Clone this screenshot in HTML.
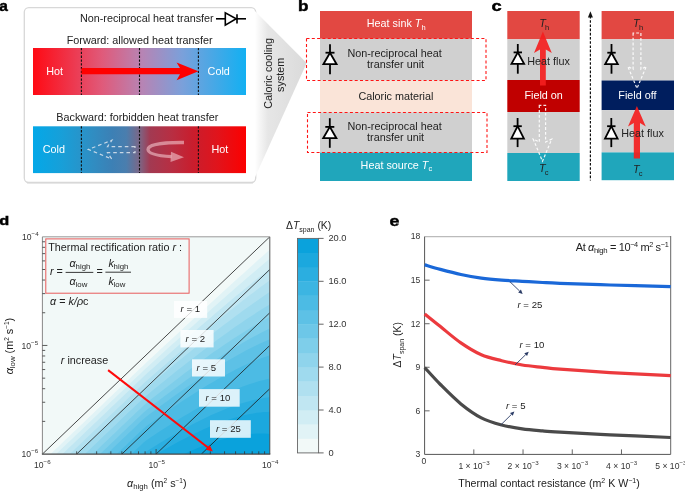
<!DOCTYPE html>
<html><head><meta charset="utf-8"><style>
html,body{margin:0;padding:0;background:#fff;}
svg{display:block;}
text{font-family:"Liberation Sans", Arial, sans-serif;fill:#222;}
.t{font-size:10.8px;}
.s{font-size:9.6px;}
.k{font-size:8.6px;fill:#333;}
.pl{font-weight:bold;fill:#000;stroke:#000;stroke-width:0.45px;}
.w{fill:#fff;}
</style></head><body>
<svg width="685" height="491" viewBox="0 0 685 491">
<rect width="685" height="491" fill="#fff"/>
<text x="-0.8" y="11" class="pl" style="font-size:15.5px">a</text>
<defs><linearGradient id="callg" x1="254.9" y1="0" x2="307" y2="0" gradientUnits="userSpaceOnUse"><stop offset="0" stop-color="#ffffff"/><stop offset="0.25" stop-color="#e6e6e6"/><stop offset="1" stop-color="#dadada"/></linearGradient></defs>
<path d="M27,183.3 H253" stroke="#e4e4e4" stroke-width="0.9"/>
<rect x="24.3" y="7.6" width="231.4" height="174.9" rx="4.5" fill="#fff" stroke="#d8d8d8" stroke-width="1.3"/>
<polygon points="254.9,10.9 306.7,63 254.9,177.5" fill="url(#callg)"/>
<defs><linearGradient id="fwd" x1="33" y1="0" x2="246" y2="0" gradientUnits="userSpaceOnUse"><stop offset="0" stop-color="#ff0a14"/><stop offset="0.324" stop-color="#e05a7a"/><stop offset="0.512" stop-color="#b784b4"/><stop offset="0.700" stop-color="#7ba0da"/><stop offset="1" stop-color="#12b0f2"/></linearGradient>
<linearGradient id="bwd" x1="33" y1="0" x2="246" y2="0" gradientUnits="userSpaceOnUse"><stop offset="0.000" stop-color="#03a8e8"/><stop offset="0.136" stop-color="#189fd8"/><stop offset="0.268" stop-color="#2e8fc4"/><stop offset="0.371" stop-color="#3c80b5"/><stop offset="0.437" stop-color="#4a7eae"/><stop offset="0.498" stop-color="#7a6888"/><stop offset="0.549" stop-color="#a23a52"/><stop offset="0.653" stop-color="#b82e42"/><stop offset="0.746" stop-color="#c81e2e"/><stop offset="0.864" stop-color="#e0141c"/><stop offset="1.000" stop-color="#fc0000"/></linearGradient></defs>
<rect x="33" y="48" width="213" height="47" fill="url(#fwd)"/>
<rect x="33" y="126.3" width="213" height="46.8" fill="url(#bwd)"/>
<line x1="81.4" y1="48" x2="81.4" y2="95" stroke="#111" stroke-width="1.1" stroke-dasharray="2.3 1.5"/>
<line x1="81.4" y1="126.3" x2="81.4" y2="173.1" stroke="#111" stroke-width="1.1" stroke-dasharray="2.3 1.5"/>
<line x1="139.5" y1="48" x2="139.5" y2="95" stroke="#111" stroke-width="1.1" stroke-dasharray="2.3 1.5"/>
<line x1="139.5" y1="126.3" x2="139.5" y2="173.1" stroke="#111" stroke-width="1.1" stroke-dasharray="2.3 1.5"/>
<line x1="198.4" y1="48" x2="198.4" y2="95" stroke="#111" stroke-width="1.1" stroke-dasharray="2.3 1.5"/>
<line x1="198.4" y1="126.3" x2="198.4" y2="173.1" stroke="#111" stroke-width="1.1" stroke-dasharray="2.3 1.5"/>
<polygon points="81.5,68 180,68 176.6,62.4 198.4,71.2 176.6,80.2 180,74.3 81.5,74.3" fill="#ff0000"/>
<polygon points="135,146.6 107.5,146.6 111.8,140.3 88.4,149.4 111.8,159.1 107.5,152.7 135,152.7" fill="none" stroke="#dfe6ee" stroke-width="1.2" stroke-dasharray="3.6 3" opacity="0.85"/>
<path d="M184,142.5 C166,142.3 148.2,144 148,149.5 C148.2,154.3 160,156 171.5,156.6" fill="none" stroke="#f0c0c8" stroke-opacity="0.62" stroke-width="3.3"/>
<polygon points="171,151.7 184,157.3 170.5,162" fill="#f0c0c8" fill-opacity="0.62"/>
<text x="79.9" y="22.2" class="t">Non-reciprocal heat transfer</text>
<g stroke="#000" stroke-width="1.6" style="fill:#fff"><line x1="216" y1="18.8" x2="246" y2="18.8"/><polygon points="225.3,12.8 225.3,25.2 236.2,18.8"/><line x1="237" y1="14.2" x2="237" y2="23.4"/></g>
<text x="66.7" y="44.4" class="t">Forward: allowed heat transfer</text>
<text x="46.3" y="74.8" class="t" style="fill:#fff">Hot</text>
<text x="207.6" y="74.6" class="t" style="fill:#fff">Cold</text>
<text x="56.3" y="121.4" class="t">Backward: forbidden heat transfer</text>
<text x="42.8" y="153.2" class="t" style="fill:#fff">Cold</text>
<text x="211.4" y="153.2" class="t" style="fill:#fff">Hot</text>
<text transform="translate(271.9,73.3) rotate(-90)" class="t" text-anchor="middle">Caloric cooling</text>
<text transform="translate(283.6,74.8) rotate(-90)" class="t" text-anchor="middle">system</text>
<text transform="translate(298.0,11) scale(1.22,1)" class="pl" style="font-size:14px">b</text>
<rect x="320" y="11" width="152" height="27.8" fill="#e24842"/>
<rect x="320" y="38.8" width="152" height="41.8" fill="#d0d0d0"/>
<rect x="320" y="80.6" width="152" height="31.7" fill="#fae4d8"/>
<rect x="320" y="112.3" width="152" height="40.3" fill="#d0d0d0"/>
<rect x="320" y="152.6" width="152" height="28.4" fill="#20a6bb"/>
<rect x="306.5" y="38.5" width="179.5" height="42" fill="none" stroke="#ff1414" stroke-width="1.1" stroke-dasharray="3 2.3"/>
<rect x="307.5" y="112.5" width="179.5" height="40" fill="none" stroke="#ff1414" stroke-width="1.1" stroke-dasharray="3 2.3"/>
<g stroke="#000" stroke-width="1.8" style="fill:#fff"><line x1="330" y1="44.3" x2="330" y2="74.3"/><polygon points="330,52.7 323.4,64.2 336.6,64.2" stroke-linejoin="miter"/><line x1="325.5" y1="52.7" x2="334.5" y2="52.7"/></g>
<g stroke="#000" stroke-width="1.8" style="fill:#fff"><line x1="329.8" y1="118.2" x2="329.8" y2="147.8"/><polygon points="329.8,126.9 323.2,138.2 336.40000000000003,138.2" stroke-linejoin="miter"/><line x1="325.3" y1="126.9" x2="334.3" y2="126.9"/></g>
<text x="396.2" y="27.1" class="t w" text-anchor="middle">Heat sink <tspan font-style="italic">T</tspan><tspan font-size="7.5" dy="2.6">h</tspan></text>
<text x="394.6" y="56.8" class="t" text-anchor="middle">Non-reciprocal heat</text>
<text x="395.6" y="68.1" class="t" text-anchor="middle">transfer unit</text>
<text x="395.9" y="99.9" class="t" text-anchor="middle">Caloric material</text>
<text x="394.6" y="129.6" class="t" text-anchor="middle">Non-reciprocal heat</text>
<text x="395.6" y="141.4" class="t" text-anchor="middle">transfer unit</text>
<text x="396.4" y="168.8" class="t w" text-anchor="middle">Heat source <tspan font-style="italic">T</tspan><tspan font-size="7.5" dy="2.6">c</tspan></text>
<text transform="translate(491.5,11) scale(1.18,1)" class="pl" style="font-size:15.5px">c</text>
<rect x="507.3" y="11" width="72.4" height="28.3" fill="#e24842"/>
<rect x="507.3" y="39.3" width="72.4" height="40.7" fill="#d0d0d0"/>
<rect x="507.3" y="80" width="72.4" height="32" fill="#c00000"/>
<rect x="507.3" y="112" width="72.4" height="41" fill="#d0d0d0"/>
<rect x="507.3" y="153" width="72.4" height="28" fill="#20a6bb"/>
<rect x="601.6" y="11" width="72.4" height="28.3" fill="#e24842"/>
<rect x="601.6" y="39.3" width="72.4" height="41.2" fill="#d0d0d0"/>
<rect x="601.6" y="80.5" width="72.4" height="29.6" fill="#001e5e"/>
<rect x="601.6" y="110.1" width="72.4" height="42.3" fill="#d0d0d0"/>
<rect x="601.6" y="152.4" width="72.4" height="27.8" fill="#20a6bb"/>
<line x1="590.4" y1="16" x2="590.4" y2="180.5" stroke="#111" stroke-width="1.2" stroke-dasharray="2.6 1.6"/>
<polygon points="590.4,11.2 587.9,17.6 592.9,17.6" fill="#111"/>
<g stroke="#000" stroke-width="1.8" style="fill:#fff"><line x1="517.8" y1="44" x2="517.8" y2="73.7"/><polygon points="517.8,52.4 511.49999999999994,63.8 524.0999999999999,63.8" stroke-linejoin="miter"/><line x1="513.5999999999999" y1="52.4" x2="522.0" y2="52.4"/></g>
<g stroke="#000" stroke-width="1.8" style="fill:#fff"><line x1="517.6" y1="118" x2="517.6" y2="147.1"/><polygon points="517.6,126.2 511.3,138.6 523.9,138.6" stroke-linejoin="miter"/><line x1="513.4" y1="126.2" x2="521.8000000000001" y2="126.2"/></g>
<g stroke="#000" stroke-width="1.8" style="fill:#fff"><line x1="611.5" y1="44" x2="611.5" y2="73.7"/><polygon points="611.5,52.7 605.2,64.1 617.8,64.1" stroke-linejoin="miter"/><line x1="607.3" y1="52.7" x2="615.7" y2="52.7"/></g>
<g stroke="#000" stroke-width="1.8" style="fill:#fff"><line x1="611.3" y1="118" x2="611.3" y2="147.1"/><polygon points="611.3,126.2 605.0,138.6 617.5999999999999,138.6" stroke-linejoin="miter"/><line x1="607.0999999999999" y1="126.2" x2="615.5" y2="126.2"/></g>
<polygon points="540.0,85.5 540.0,49.5 534.0,52.9 542.9,31.6 551.8,52.9 545.8,49.5 545.8,85.5" fill="#f41e1e" fill-opacity="0.92"/>
<polygon points="633.8,158.5 633.8,123.0 628.0,126.5 636.9,105.9 645.8,126.5 640.0,123.0 640.0,158.5" fill="#f41e1e" fill-opacity="0.92"/>
<polygon points="539.3,105.3 539.3,142.0 533.2,139.1 542.5,161.3 551.7,139.1 545.6,142.0 545.6,105.3" fill="none" stroke="#fff" stroke-opacity="0.9" stroke-width="1.2" stroke-dasharray="2.8 2"/>
<polygon points="633.1,33.0 633.1,69.3 627.8,66.4 637.0,88.4 646.3,66.4 640.9,69.3 640.9,33.0" fill="none" stroke="#fff" stroke-opacity="0.9" stroke-width="1.2" stroke-dasharray="2.8 2"/>
<text x="539.2" y="27" class="t" font-style="italic">T</text><text x="545" y="30.1" class="t" style="font-size:7.5px">h</text>
<text x="633.1" y="27.2" class="t" font-style="italic">T</text><text x="638.9" y="30.3" class="t" style="font-size:7.5px">h</text>
<text x="527.3" y="65" class="t">Heat flux</text>
<text x="621.2" y="137" class="t">Heat flux</text>
<text x="524.4" y="99.2" class="t" style="fill:#fff">Field on</text>
<text x="618.3" y="99" class="t" style="fill:#fff">Field off</text>
<text x="539" y="172.4" class="t" font-style="italic">T</text><text x="544.8" y="175.4" class="t" style="font-size:7.5px">c</text>
<text x="632.9" y="172.8" class="t" font-style="italic">T</text><text x="638.7" y="175.8" class="t" style="font-size:7.5px">c</text>
<text transform="translate(-0.8,225.4) scale(1.2,1)" class="pl" style="font-size:13.6px">d</text>
<defs><clipPath id="dclip"><rect x="42.4" y="236.8" width="227.4" height="217.3"/></clipPath></defs>
<g clip-path="url(#dclip)">
<rect x="42.4" y="236.8" width="227.4" height="217.3" fill="#f2f9f8"/>
<polygon points="8.29,494.43 11.84,491.04 15.40,487.64 18.95,484.25 22.50,480.85 26.06,477.46 29.61,474.06 33.16,470.67 36.72,467.27 40.27,463.87 43.82,460.48 47.37,457.08 50.93,453.69 54.48,450.29 58.03,446.90 61.59,443.50 65.14,440.11 68.69,436.71 72.25,433.32 75.80,429.92 79.35,426.53 82.91,423.13 86.46,419.74 90.01,416.34 93.57,412.94 97.12,409.55 100.67,406.15 104.22,402.76 107.78,399.36 111.33,395.97 114.88,392.57 118.44,389.18 121.99,385.78 125.54,382.39 129.10,378.99 132.65,375.60 136.20,372.20 139.76,368.81 143.31,365.41 146.86,362.07 150.42,358.76 153.97,355.46 157.52,352.16 161.07,348.86 164.63,345.56 168.18,342.27 171.73,338.98 175.29,335.69 178.84,332.40 182.39,329.12 185.95,325.84 189.50,322.56 193.05,319.29 196.61,316.02 200.16,312.75 203.71,309.49 207.27,306.23 210.82,302.97 214.37,299.72 217.92,296.47 221.48,293.23 225.03,289.99 228.58,286.76 232.14,283.53 235.69,280.31 239.24,277.09 242.80,273.88 246.35,270.67 249.90,267.47 253.46,264.28 257.01,261.10 260.56,257.92 264.12,254.75 267.67,251.59 271.22,248.44 274.77,245.29 278.33,242.16 281.88,239.04 285.43,235.93 288.99,232.83 292.54,229.74 292.54,671.40 8.29,671.40" fill="#e1f3f6"/>
<polygon points="8.29,499.79 11.84,496.40 15.40,493.00 18.95,489.61 22.50,486.21 26.06,482.82 29.61,479.42 33.16,476.03 36.72,472.63 40.27,469.24 43.82,465.84 47.37,462.45 50.93,459.05 54.48,455.65 58.03,452.26 61.59,448.86 65.14,445.47 68.69,442.07 72.25,438.68 75.80,435.28 79.35,431.89 82.91,428.49 86.46,425.10 90.01,421.70 93.57,418.31 97.12,414.91 100.67,411.52 104.22,408.12 107.78,404.73 111.33,401.33 114.88,397.93 118.44,394.54 121.99,391.14 125.54,387.75 129.10,384.35 132.65,380.96 136.20,377.56 139.76,374.17 143.31,370.77 146.86,367.47 150.42,364.22 153.97,360.98 157.52,357.75 161.07,354.52 164.63,351.29 168.18,348.07 171.73,344.85 175.29,341.63 178.84,338.42 182.39,335.22 185.95,332.02 189.50,328.82 193.05,325.63 196.61,322.45 200.16,319.27 203.71,316.10 207.27,312.93 210.82,309.77 214.37,306.62 217.92,303.47 221.48,300.34 225.03,297.21 228.58,294.08 232.14,290.97 235.69,287.87 239.24,284.77 242.80,281.69 246.35,278.61 249.90,275.55 253.46,272.50 257.01,269.46 260.56,266.43 264.12,263.42 267.67,260.42 271.22,257.44 274.77,254.47 278.33,251.52 281.88,248.59 285.43,245.68 288.99,242.78 292.54,239.91 292.54,671.40 8.29,671.40" fill="#d1edf4"/>
<polygon points="8.29,505.82 11.84,502.42 15.40,499.03 18.95,495.63 22.50,492.24 26.06,488.84 29.61,485.45 33.16,482.05 36.72,478.65 40.27,475.26 43.82,471.86 47.37,468.47 50.93,465.07 54.48,461.68 58.03,458.28 61.59,454.89 65.14,451.49 68.69,448.10 72.25,444.70 75.80,441.31 79.35,437.91 82.91,434.52 86.46,431.12 90.01,427.73 93.57,424.33 97.12,420.93 100.67,417.54 104.22,414.14 107.78,410.75 111.33,407.35 114.88,403.96 118.44,400.56 121.99,397.17 125.54,393.77 129.10,390.38 132.65,386.98 136.20,383.59 139.76,380.19 143.31,376.80 146.86,373.53 150.42,370.36 153.97,367.19 157.52,364.03 161.07,360.87 164.63,357.72 168.18,354.58 171.73,351.44 175.29,348.31 178.84,345.18 182.39,342.07 185.95,338.96 189.50,335.85 193.05,332.76 196.61,329.67 200.16,326.59 203.71,323.52 207.27,320.46 210.82,317.41 214.37,314.37 217.92,311.34 221.48,308.32 225.03,305.31 228.58,302.32 232.14,299.33 235.69,296.36 239.24,293.41 242.80,290.46 246.35,287.54 249.90,284.63 253.46,281.74 257.01,278.86 260.56,276.00 264.12,273.17 267.67,270.35 271.22,267.56 274.77,264.79 278.33,262.04 281.88,259.32 285.43,256.63 288.99,253.97 292.54,251.34 292.54,671.40 8.29,671.40" fill="#c0e6f2"/>
<polygon points="8.29,512.78 11.84,509.39 15.40,505.99 18.95,502.60 22.50,499.20 26.06,495.81 29.61,492.41 33.16,489.01 36.72,485.62 40.27,482.22 43.82,478.83 47.37,475.43 50.93,472.04 54.48,468.64 58.03,465.25 61.59,461.85 65.14,458.46 68.69,455.06 72.25,451.67 75.80,448.27 79.35,444.88 82.91,441.48 86.46,438.09 90.01,434.69 93.57,431.29 97.12,427.90 100.67,424.50 104.22,421.11 107.78,417.71 111.33,414.32 114.88,410.92 118.44,407.53 121.99,404.13 125.54,400.74 129.10,397.34 132.65,393.95 136.20,390.55 139.76,387.16 143.31,383.76 146.86,380.54 150.42,377.45 153.97,374.37 157.52,371.29 161.07,368.22 164.63,365.16 168.18,362.11 171.73,359.06 175.29,356.03 178.84,353.00 182.39,349.98 185.95,346.98 189.50,343.98 193.05,340.99 196.61,338.02 200.16,335.06 203.71,332.11 207.27,329.17 210.82,326.24 214.37,323.33 217.92,320.43 221.48,317.55 225.03,314.68 228.58,311.83 232.14,309.00 235.69,306.18 239.24,303.39 242.80,300.61 246.35,297.86 249.90,295.12 253.46,292.41 257.01,289.73 260.56,287.07 264.12,284.43 267.67,281.83 271.22,279.25 274.77,276.71 278.33,274.20 281.88,271.73 285.43,269.29 288.99,266.90 292.54,264.55 292.54,671.40 8.29,671.40" fill="#b0e0f0"/>
<polygon points="8.29,519.77 11.84,516.38 15.40,512.98 18.95,509.59 22.50,506.19 26.06,502.80 29.61,499.40 33.16,496.01 36.72,492.61 40.27,489.22 43.82,485.82 47.37,482.43 50.93,479.03 54.48,475.63 58.03,472.24 61.59,468.84 65.14,465.45 68.69,462.05 72.25,458.66 75.80,455.26 79.35,451.87 82.91,448.47 86.46,445.08 90.01,441.68 93.57,438.29 97.12,434.89 100.67,431.50 104.22,428.10 107.78,424.70 111.33,421.31 114.88,417.91 118.44,414.52 121.99,411.12 125.54,407.73 129.10,404.33 132.65,400.94 136.20,397.54 139.76,394.15 143.31,390.75 146.86,387.58 150.42,384.57 153.97,381.57 157.52,378.58 161.07,375.60 164.63,372.63 168.18,369.67 171.73,366.72 175.29,363.78 178.84,360.85 182.39,357.93 185.95,355.03 189.50,352.14 193.05,349.26 196.61,346.40 200.16,343.55 203.71,340.72 207.27,337.91 210.82,335.11 214.37,332.32 217.92,329.56 221.48,326.82 225.03,324.09 228.58,321.39 232.14,318.70 235.69,316.04 239.24,313.41 242.80,310.80 246.35,308.21 249.90,305.66 253.46,303.13 257.01,300.64 260.56,298.17 264.12,295.74 267.67,293.35 271.22,290.99 274.77,288.68 278.33,286.41 281.88,284.18 285.43,282.00 288.99,279.88 292.54,277.81 292.54,671.40 8.29,671.40" fill="#9fdaee"/>
<polygon points="8.29,527.27 11.84,523.88 15.40,520.48 18.95,517.09 22.50,513.69 26.06,510.30 29.61,506.90 33.16,503.51 36.72,500.11 40.27,496.71 43.82,493.32 47.37,489.92 50.93,486.53 54.48,483.13 58.03,479.74 61.59,476.34 65.14,472.95 68.69,469.55 72.25,466.16 75.80,462.76 79.35,459.37 82.91,455.97 86.46,452.58 90.01,449.18 93.57,445.79 97.12,442.39 100.67,438.99 104.22,435.60 107.78,432.20 111.33,428.81 114.88,425.41 118.44,422.02 121.99,418.62 125.54,415.23 129.10,411.83 132.65,408.44 136.20,405.04 139.76,401.65 143.31,398.25 146.86,395.13 150.42,392.21 153.97,389.30 157.52,386.40 161.07,383.51 164.63,380.64 168.18,377.77 171.73,374.92 175.29,372.09 178.84,369.27 182.39,366.46 185.95,363.67 189.50,360.89 193.05,358.13 196.61,355.39 200.16,352.67 203.71,349.96 207.27,347.28 210.82,344.62 214.37,341.97 217.92,339.35 221.48,336.75 225.03,334.18 228.58,331.63 232.14,329.11 235.69,326.62 239.24,324.16 242.80,321.72 246.35,319.32 249.90,316.96 253.46,314.63 257.01,312.34 260.56,310.08 264.12,307.87 267.67,305.71 271.22,303.59 274.77,301.52 278.33,299.50 281.88,297.54 285.43,295.64 288.99,293.80 292.54,292.03 292.54,671.40 8.29,671.40" fill="#8fd4ec"/>
<polygon points="8.29,534.77 11.84,531.38 15.40,527.98 18.95,524.59 22.50,521.19 26.06,517.79 29.61,514.40 33.16,511.00 36.72,507.61 40.27,504.21 43.82,500.82 47.37,497.42 50.93,494.03 54.48,490.63 58.03,487.24 61.59,483.84 65.14,480.45 68.69,477.05 72.25,473.66 75.80,470.26 79.35,466.87 82.91,463.47 86.46,460.07 90.01,456.68 93.57,453.28 97.12,449.89 100.67,446.49 104.22,443.10 107.78,439.70 111.33,436.31 114.88,432.91 118.44,429.52 121.99,426.12 125.54,422.73 129.10,419.33 132.65,415.94 136.20,412.54 139.76,409.14 143.31,405.75 146.86,402.68 150.42,399.85 153.97,397.03 157.52,394.22 161.07,391.42 164.63,388.65 168.18,385.88 171.73,383.13 175.29,380.40 178.84,377.68 182.39,374.99 185.95,372.31 189.50,369.64 193.05,367.00 196.61,364.38 200.16,361.78 203.71,359.21 207.27,356.65 210.82,354.12 214.37,351.62 217.92,349.14 221.48,346.69 225.03,344.27 228.58,341.88 232.14,339.52 235.69,337.20 239.24,334.90 242.80,332.65 246.35,330.43 249.90,328.26 253.46,326.12 257.01,324.04 260.56,321.99 264.12,320.00 267.67,318.06 271.22,316.18 274.77,314.36 278.33,312.59 281.88,310.90 285.43,309.27 288.99,307.72 292.54,306.25 292.54,671.40 8.29,671.40" fill="#7eceea"/>
<polygon points="8.29,541.75 11.84,538.36 15.40,534.96 18.95,531.57 22.50,528.17 26.06,524.78 29.61,521.38 33.16,517.99 36.72,514.59 40.27,511.20 43.82,507.80 47.37,504.41 50.93,501.01 54.48,497.62 58.03,494.22 61.59,490.82 65.14,487.43 68.69,484.03 72.25,480.64 75.80,477.24 79.35,473.85 82.91,470.45 86.46,467.06 90.01,463.66 93.57,460.27 97.12,456.87 100.67,453.48 104.22,450.08 107.78,446.69 111.33,443.29 114.88,439.90 118.44,436.50 121.99,433.10 125.54,429.71 129.10,426.31 132.65,422.92 136.20,419.52 139.76,416.13 143.31,412.73 146.86,409.72 150.42,406.96 153.97,404.22 157.52,401.50 161.07,398.79 164.63,396.10 168.18,393.43 171.73,390.77 175.29,388.14 178.84,385.52 182.39,382.92 185.95,380.35 189.50,377.79 193.05,375.26 196.61,372.76 200.16,370.27 203.71,367.81 207.27,365.38 210.82,362.98 214.37,360.60 217.92,358.26 221.48,355.95 225.03,353.67 228.58,351.42 232.14,349.21 235.69,347.04 239.24,344.91 242.80,342.82 246.35,340.78 249.90,338.78 253.46,336.83 257.01,334.93 260.56,333.09 264.12,331.30 267.67,329.57 271.22,327.91 274.77,326.31 278.33,324.79 281.88,323.34 285.43,321.97 288.99,320.69 292.54,319.49 292.54,671.40 8.29,671.40" fill="#6dc7e8"/>
<polygon points="8.29,548.22 11.84,544.83 15.40,541.43 18.95,538.04 22.50,534.64 26.06,531.25 29.61,527.85 33.16,524.45 36.72,521.06 40.27,517.66 43.82,514.27 47.37,510.87 50.93,507.48 54.48,504.08 58.03,500.69 61.59,497.29 65.14,493.90 68.69,490.50 72.25,487.11 75.80,483.71 79.35,480.32 82.91,476.92 86.46,473.53 90.01,470.13 93.57,466.73 97.12,463.34 100.67,459.94 104.22,456.55 107.78,453.15 111.33,449.76 114.88,446.36 118.44,442.97 121.99,439.57 125.54,436.18 129.10,432.78 132.65,429.39 136.20,425.99 139.76,422.60 143.31,419.20 146.86,416.23 150.42,413.55 153.97,410.89 157.52,408.24 161.07,405.62 164.63,403.01 168.18,400.42 171.73,397.85 175.29,395.31 178.84,392.78 182.39,390.28 185.95,387.80 189.50,385.34 193.05,382.91 196.61,380.51 200.16,378.13 203.71,375.78 207.27,373.47 210.82,371.18 214.37,368.92 217.92,366.70 221.48,364.52 225.03,362.37 228.58,360.26 232.14,358.19 235.69,356.16 239.24,354.18 242.80,352.25 246.35,350.36 249.90,348.53 253.46,346.75 257.01,345.02 260.56,343.36 264.12,341.76 267.67,340.23 271.22,338.77 274.77,337.38 278.33,336.08 281.88,334.86 285.43,333.73 288.99,332.69 292.54,331.76 292.54,671.40 8.29,671.40" fill="#5dc1e6"/>
<polygon points="8.29,557.73 11.84,554.34 15.40,550.94 18.95,547.55 22.50,544.15 26.06,540.76 29.61,537.36 33.16,533.97 36.72,530.57 40.27,527.18 43.82,523.78 47.37,520.39 50.93,516.99 54.48,513.60 58.03,510.20 61.59,506.81 65.14,503.41 68.69,500.01 72.25,496.62 75.80,493.22 79.35,489.83 82.91,486.43 86.46,483.04 90.01,479.64 93.57,476.25 97.12,472.85 100.67,469.46 104.22,466.06 107.78,462.67 111.33,459.27 114.88,455.88 118.44,452.48 121.99,449.08 125.54,445.69 129.10,442.29 132.65,438.90 136.20,435.50 139.76,432.11 143.31,428.71 146.86,425.81 150.42,423.24 153.97,420.69 157.52,418.16 161.07,415.65 164.63,413.17 168.18,410.71 171.73,408.27 175.29,405.85 178.84,403.46 182.39,401.09 185.95,398.76 189.50,396.45 193.05,394.16 196.61,391.91 200.16,389.69 203.71,387.51 207.27,385.36 210.82,383.24 214.37,381.16 217.92,379.12 221.48,377.13 225.03,375.17 228.58,373.26 232.14,371.39 235.69,369.58 239.24,367.82 242.80,366.11 246.35,364.45 249.90,362.86 253.46,361.33 257.01,359.87 260.56,358.47 264.12,357.15 267.67,355.91 271.22,354.75 274.77,353.67 278.33,352.69 281.88,351.80 285.43,351.02 288.99,350.35 292.54,349.80 292.54,671.40 8.29,671.40" fill="#4cbbe4"/>
<polygon points="8.29,571.82 11.84,568.42 15.40,565.03 18.95,561.63 22.50,558.23 26.06,554.84 29.61,551.44 33.16,548.05 36.72,544.65 40.27,541.26 43.82,537.86 47.37,534.47 50.93,531.07 54.48,527.68 58.03,524.28 61.59,520.89 65.14,517.49 68.69,514.10 72.25,510.70 75.80,507.30 79.35,503.91 82.91,500.51 86.46,497.12 90.01,493.72 93.57,490.33 97.12,486.93 100.67,483.54 104.22,480.14 107.78,476.75 111.33,473.35 114.88,469.96 118.44,466.56 121.99,463.17 125.54,459.77 129.10,456.38 132.65,452.98 136.20,449.58 139.76,446.19 143.31,442.79 146.86,439.98 150.42,437.58 153.97,435.20 157.52,432.84 161.07,430.51 164.63,428.21 168.18,425.93 171.73,423.68 175.29,421.46 178.84,419.26 182.39,417.10 185.95,414.97 189.50,412.88 193.05,410.82 196.61,408.80 200.16,406.81 203.71,404.86 207.27,402.96 210.82,401.10 214.37,399.28 217.92,397.51 221.48,395.79 225.03,394.12 228.58,392.50 232.14,390.94 235.69,389.44 239.24,388.00 242.80,386.62 246.35,385.31 249.90,384.08 253.46,382.92 257.01,381.84 260.56,380.84 264.12,379.93 267.67,379.11 271.22,378.39 274.77,377.78 278.33,377.27 281.88,376.89 285.43,376.63 288.99,376.50 292.54,376.51 292.54,671.40 8.29,671.40" fill="#3cb5e2"/>
<polygon points="8.29,583.03 11.84,579.63 15.40,576.24 18.95,572.84 22.50,569.45 26.06,566.05 29.61,562.66 33.16,559.26 36.72,555.87 40.27,552.47 43.82,549.08 47.37,545.68 50.93,542.29 54.48,538.89 58.03,535.50 61.59,532.10 65.14,528.70 68.69,525.31 72.25,521.91 75.80,518.52 79.35,515.12 82.91,511.73 86.46,508.33 90.01,504.94 93.57,501.54 97.12,498.15 100.67,494.75 104.22,491.36 107.78,487.96 111.33,484.57 114.88,481.17 118.44,477.77 121.99,474.38 125.54,470.98 129.10,467.59 132.65,464.19 136.20,460.80 139.76,457.40 143.31,454.01 146.86,451.27 150.42,449.00 153.97,446.75 157.52,444.54 161.07,442.34 164.63,440.18 168.18,438.05 171.73,435.95 175.29,433.88 178.84,431.85 182.39,429.85 185.95,427.89 189.50,425.97 193.05,424.08 196.61,422.24 200.16,420.44 203.71,418.68 207.27,416.98 210.82,415.32 214.37,413.71 217.92,412.15 221.48,410.65 225.03,409.21 228.58,407.82 232.14,406.50 235.69,405.25 239.24,404.07 242.80,402.96 246.35,401.93 249.90,400.98 253.46,400.11 257.01,399.33 260.56,398.65 264.12,398.07 267.67,397.59 271.22,397.23 274.77,396.98 278.33,396.85 281.88,396.86 285.43,397.01 288.99,397.31 292.54,397.77 292.54,671.40 8.29,671.40" fill="#2baee0"/>
<polygon points="8.29,591.70 11.84,588.31 15.40,584.91 18.95,581.52 22.50,578.12 26.06,574.72 29.61,571.33 33.16,567.93 36.72,564.54 40.27,561.14 43.82,557.75 47.37,554.35 50.93,550.96 54.48,547.56 58.03,544.17 61.59,540.77 65.14,537.38 68.69,533.98 72.25,530.59 75.80,527.19 79.35,523.79 82.91,520.40 86.46,517.00 90.01,513.61 93.57,510.21 97.12,506.82 100.67,503.42 104.22,500.03 107.78,496.63 111.33,493.24 114.88,489.84 118.44,486.45 121.99,483.05 125.54,479.66 129.10,476.26 132.65,472.87 136.20,469.47 139.76,466.07 143.31,462.68 146.86,460.00 150.42,457.83 153.97,455.69 157.52,453.58 161.07,451.49 164.63,449.44 168.18,447.43 171.73,445.44 175.29,443.49 178.84,441.58 182.39,439.71 185.95,437.88 189.50,436.09 193.05,434.34 196.61,432.64 200.16,430.98 203.71,429.37 207.27,427.82 210.82,426.31 214.37,424.86 217.92,423.47 221.48,422.14 225.03,420.87 228.58,419.67 232.14,418.54 235.69,417.48 239.24,416.50 242.80,415.59 246.35,414.77 249.90,414.04 253.46,413.40 257.01,412.86 260.56,412.42 264.12,412.10 267.67,411.88 271.22,411.79 274.77,411.82 278.33,412.00 281.88,412.31 285.43,412.78 288.99,413.41 292.54,414.22 292.54,671.40 8.29,671.40" fill="#1ba8de"/>
<polygon points="8.29,604.94 11.84,601.55 15.40,598.15 18.95,594.76 22.50,591.36 26.06,587.97 29.61,584.57 33.16,581.18 36.72,577.78 40.27,574.38 43.82,570.99 47.37,567.59 50.93,564.20 54.48,560.80 58.03,557.41 61.59,554.01 65.14,550.62 68.69,547.22 72.25,543.83 75.80,540.43 79.35,537.04 82.91,533.64 86.46,530.25 90.01,526.85 93.57,523.45 97.12,520.06 100.67,516.66 104.22,513.27 107.78,509.87 111.33,506.48 114.88,503.08 118.44,499.69 121.99,496.29 125.54,492.90 129.10,489.50 132.65,486.11 136.20,482.71 139.76,479.32 143.31,475.92 146.86,473.34 150.42,471.32 153.97,469.33 157.52,467.38 161.07,465.47 164.63,463.58 168.18,461.74 171.73,459.94 175.29,458.17 178.84,456.45 182.39,454.77 185.95,453.13 189.50,451.54 193.05,450.00 196.61,448.51 200.16,447.07 203.71,445.69 207.27,444.37 210.82,443.10 214.37,441.90 217.92,440.76 221.48,439.69 225.03,438.69 228.58,437.77 232.14,436.92 235.69,436.15 239.24,435.47 242.80,434.89 246.35,434.39 249.90,433.99 253.46,433.70 257.01,433.52 260.56,433.46 264.12,433.52 267.67,433.70 271.22,434.03 274.77,434.49 278.33,435.11 281.88,435.90 285.43,436.86 288.99,438.00 292.54,439.33 292.54,671.40 8.29,671.40" fill="#0aa2dc"/>
<line x1="42.40" y1="454.10" x2="269.80" y2="236.80" stroke="#1a1a1a" stroke-width="0.8"/>
<line x1="76.63" y1="454.10" x2="269.80" y2="269.51" stroke="#1a1a1a" stroke-width="0.8"/>
<line x1="121.87" y1="454.10" x2="269.80" y2="312.74" stroke="#1a1a1a" stroke-width="0.8"/>
<line x1="156.10" y1="454.10" x2="269.80" y2="345.45" stroke="#1a1a1a" stroke-width="0.8"/>
<line x1="201.35" y1="454.10" x2="269.80" y2="388.69" stroke="#1a1a1a" stroke-width="0.8"/>
</g>
<line x1="42.4" y1="236.8" x2="269.8" y2="236.8" stroke="#999" stroke-width="1"/>
<line x1="269.8" y1="236.8" x2="269.8" y2="454.1" stroke="#555" stroke-width="1"/>
<line x1="42.4" y1="236.8" x2="42.4" y2="454.1" stroke="#888" stroke-width="1"/>
<line x1="41.9" y1="454.1" x2="270.3" y2="454.1" stroke="#444" stroke-width="1.1"/>
<path d="M76.63,454.10v-2.8M42.40,421.39h2.8M96.65,454.10v-2.8M42.40,402.26h2.8M110.85,454.10v-2.8M42.40,388.69h2.8M121.87,454.10v-2.8M42.40,378.16h2.8M130.88,454.10v-2.8M42.40,369.55h2.8M138.49,454.10v-2.8M42.40,362.28h2.8M145.08,454.10v-2.8M42.40,355.98h2.8M150.90,454.10v-2.8M42.40,350.42h2.8M156.10,454.10v-5M42.40,345.45h5M190.33,454.10v-2.8M42.40,312.74h2.8M210.35,454.10v-2.8M42.40,293.61h2.8M224.55,454.10v-2.8M42.40,280.04h2.8M235.57,454.10v-2.8M42.40,269.51h2.8M244.58,454.10v-2.8M42.40,260.90h2.8M252.19,454.10v-2.8M42.40,253.63h2.8M258.78,454.10v-2.8M42.40,247.33h2.8M264.60,454.10v-2.8M42.40,241.77h2.8" stroke="#333" stroke-width="0.8" fill="none"/>
<rect x="45.8" y="238.9" width="143.3" height="54.3" fill="#f2f9f8" stroke="#e85a5a" stroke-width="1"/>
<text x="48.2" y="250.7" class="t">Thermal rectification ratio <tspan font-style="italic">r</tspan> :</text>
<text x="50" y="275.2" class="t"><tspan font-style="italic">r</tspan> =</text>
<line x1="65.6" y1="272.4" x2="93.3" y2="272.4" stroke="#222" stroke-width="0.9"/>
<text x="69.5" y="267.3" class="t" font-style="italic">α</text><text x="75.6" y="269.3" class="t" style="font-size:7.8px">high</text>
<text x="69.5" y="284.6" class="t" font-style="italic">α</text><text x="75.6" y="286.6" class="t" style="font-size:7.8px">low</text>
<text x="96.6" y="275.2" class="t">=</text>
<line x1="105.4" y1="272.2" x2="131" y2="272.2" stroke="#222" stroke-width="0.9"/>
<text x="108.5" y="267.3" class="t" font-style="italic">k</text><text x="113.6" y="269.3" class="t" style="font-size:7.8px">high</text>
<text x="108.5" y="285.3" class="t" font-style="italic">k</text><text x="113.6" y="287.3" class="t" style="font-size:7.8px">low</text>
<text x="50" y="304.6" class="t" font-style="italic">α <tspan font-style="normal">=</tspan> k/ρ<tspan font-style="normal">c</tspan></text>
<text x="60.8" y="363.7" class="t"><tspan font-style="italic">r</tspan> increase</text>
<rect x="174" y="301" width="33.2" height="16.9" fill="#fff" fill-opacity="0.82"/>
<text x="180.6" y="312.4" class="s"><tspan font-style="italic">r</tspan> = 1</text>
<rect x="180.4" y="330" width="33.2" height="17.4" fill="#fff" fill-opacity="0.82"/>
<text x="185.6" y="341.7" class="s"><tspan font-style="italic">r</tspan> = 2</text>
<rect x="192" y="359.3" width="33" height="17.2" fill="#fff" fill-opacity="0.82"/>
<text x="196.6" y="370.6" class="s"><tspan font-style="italic">r</tspan> = 5</text>
<rect x="199" y="389.1" width="40.7" height="17.6" fill="#fff" fill-opacity="0.82"/>
<text x="205.5" y="400.6" class="s"><tspan font-style="italic">r</tspan> = 10</text>
<rect x="210" y="420.2" width="40.8" height="17.6" fill="#fff" fill-opacity="0.82"/>
<text x="216" y="431.9" class="s"><tspan font-style="italic">r</tspan> = 25</text>
<line x1="108.1" y1="370.1" x2="208.55" y2="448.03" stroke="#ff0a0a" stroke-width="2"/>
<polygon points="212.9,451.4 205.93,449.79 209.60,445.05" fill="#ff0a0a"/>
<text x="22" y="239.6" class="k">10<tspan font-size="6.2" dy="-4">−4</tspan></text>
<text x="21.5" y="348.9" class="k">10<tspan font-size="6.2" dy="-4">−5</tspan></text>
<text x="21.6" y="457.4" class="k">10<tspan font-size="6.2" dy="-4">−6</tspan></text>
<text x="34" y="467.6" class="k">10<tspan font-size="6.2" dy="-4">−6</tspan></text>
<text x="148.4" y="467.9" class="k">10<tspan font-size="6.2" dy="-4">−5</tspan></text>
<text x="261.9" y="467.9" class="k">10<tspan font-size="6.2" dy="-4">−4</tspan></text>
<text x="127" y="486.5" class="t"><tspan font-style="italic">α</tspan><tspan font-size="7.8" dy="2">high</tspan><tspan dy="-2"> (m</tspan><tspan font-size="6.5" dy="-4">2</tspan><tspan dy="4"> s</tspan><tspan font-size="6.5" dy="-4">−1</tspan><tspan dy="4">)</tspan></text>
<text transform="translate(12.6,374.3) rotate(-90)" class="t"><tspan font-style="italic">α</tspan><tspan font-size="7.8" dy="2">low</tspan><tspan dy="-2"> (m</tspan><tspan font-size="6.5" dy="-4">2</tspan><tspan dy="4"> s</tspan><tspan font-size="6.5" dy="-4">−1</tspan><tspan dy="4">)</tspan></text>
<rect x="297.5" y="438.60" width="21.1" height="14.60" fill="#f2f9f8"/>
<rect x="297.5" y="424.30" width="21.1" height="14.60" fill="#e1f3f6"/>
<rect x="297.5" y="410.00" width="21.1" height="14.60" fill="#d1edf4"/>
<rect x="297.5" y="395.70" width="21.1" height="14.60" fill="#c0e6f2"/>
<rect x="297.5" y="381.40" width="21.1" height="14.60" fill="#b0e0f0"/>
<rect x="297.5" y="367.10" width="21.1" height="14.60" fill="#9fdaee"/>
<rect x="297.5" y="352.80" width="21.1" height="14.60" fill="#8fd4ec"/>
<rect x="297.5" y="338.50" width="21.1" height="14.60" fill="#7eceea"/>
<rect x="297.5" y="324.20" width="21.1" height="14.60" fill="#6dc7e8"/>
<rect x="297.5" y="309.90" width="21.1" height="14.60" fill="#5dc1e6"/>
<rect x="297.5" y="295.60" width="21.1" height="14.60" fill="#4cbbe4"/>
<rect x="297.5" y="281.30" width="21.1" height="14.60" fill="#3cb5e2"/>
<rect x="297.5" y="267.00" width="21.1" height="14.60" fill="#2baee0"/>
<rect x="297.5" y="252.70" width="21.1" height="14.60" fill="#1ba8de"/>
<rect x="297.5" y="238.40" width="21.1" height="14.60" fill="#0aa2dc"/>
<rect x="297.5" y="238.4" width="21.1" height="214.49999999999997" fill="none" stroke="#666" stroke-width="0.9"/>
<text x="328.4" y="455.5" class="k" style="font-size:9.3px">0</text>
<text x="328.4" y="412.6" class="k" style="font-size:9.3px">4.0</text>
<text x="328.4" y="369.7" class="k" style="font-size:9.3px">8.0</text>
<text x="328.4" y="326.8" class="k" style="font-size:9.3px">12.0</text>
<text x="328.4" y="283.9" class="k" style="font-size:9.3px">16.0</text>
<text x="328.4" y="241.0" class="k" style="font-size:9.3px">20.0</text>
<path d="M318.60,452.90h5M318.60,410.00h5M318.60,367.10h5M318.60,324.20h5M318.60,281.30h5M318.60,238.40h5" stroke="#555" stroke-width="0.9"/>
<text x="286" y="228.8" class="t" style="font-size:10.4px"><tspan>Δ</tspan><tspan font-style="italic">T</tspan><tspan font-size="7" dy="2.8">span</tspan><tspan dy="-2.8"> (K)</tspan></text>
<text transform="translate(389.6,225.5) scale(1.15,1)" class="pl" style="font-size:15.5px">e</text>
<line x1="424.6" y1="236.6" x2="670.7" y2="236.6" stroke="#bbb" stroke-width="1.2"/>
<line x1="670.7" y1="236.0" x2="670.7" y2="454.4" stroke="#666" stroke-width="1"/>
<path d="M424.6,236.6V454.4H670.7" fill="none" stroke="#555" stroke-width="1"/>
<path d="M424.60,410.84h5M424.60,367.28h5M424.60,323.72h5M424.60,280.16h5M473.82,454.40v-5M523.04,454.40v-5M572.26,454.40v-5M621.48,454.40v-5" stroke="#555" stroke-width="0.9"/>
<text x="420.2" y="457.2" class="k" text-anchor="end">3</text>
<text x="420.2" y="413.6" class="k" text-anchor="end">6</text>
<text x="420.2" y="370.1" class="k" text-anchor="end">9</text>
<text x="420.2" y="326.5" class="k" text-anchor="end">12</text>
<text x="420.2" y="283.0" class="k" text-anchor="end">15</text>
<text x="420.2" y="239.4" class="k" text-anchor="end">18</text>
<text x="421.6" y="464.4" class="k">0</text>
<text x="474.0" y="468.6" class="k" text-anchor="middle">1 × 10<tspan font-size="6.2" dy="-4">−3</tspan></text>
<text x="523.2" y="468.6" class="k" text-anchor="middle">2 × 10<tspan font-size="6.2" dy="-4">−3</tspan></text>
<text x="572.5" y="468.6" class="k" text-anchor="middle">3 × 10<tspan font-size="6.2" dy="-4">−3</tspan></text>
<text x="621.7" y="468.6" class="k" text-anchor="middle">4 × 10<tspan font-size="6.2" dy="-4">−3</tspan></text>
<text x="670.9" y="468.6" class="k" text-anchor="middle">5 × 10<tspan font-size="6.2" dy="-4">−3</tspan></text>
<text x="458.2" y="487.2" class="t" style="font-size:10.65px">Thermal contact resistance (m<tspan font-size="7" dy="-4.2">2</tspan><tspan dy="4.2"> K W</tspan><tspan font-size="7" dy="-4.2">−1</tspan><tspan dy="4.2">)</tspan></text>
<text transform="translate(401.2,367.4) rotate(-90)" class="t" style="font-size:10.4px">Δ<tspan font-style="italic">T</tspan><tspan font-size="7" dy="2.8">span</tspan><tspan dy="-2.8"> (K)</tspan></text>
<text x="575.7" y="250.9" class="t" style="font-size:11px" textLength="93" lengthAdjust="spacing">At <tspan font-style="italic">α</tspan><tspan font-size="7.8" dy="2.5">high</tspan><tspan dy="-2.5"> = 10</tspan><tspan font-size="7.3" dy="-4.4">−4</tspan><tspan dy="4.4"> m</tspan><tspan font-size="7.3" dy="-4.4">2</tspan><tspan dy="4.4"> s</tspan><tspan font-size="7.3" dy="-4.4">−1</tspan></text>
<path d="M424.70,367.60 C427.32,370.42 434.37,378.45 440.40,384.50 C446.43,390.55 454.08,398.35 460.90,403.90 C467.72,409.45 474.50,414.28 481.30,417.80 C488.10,421.32 494.88,423.15 501.70,425.00 C508.52,426.85 515.38,427.92 522.20,428.90 C529.02,429.88 536.30,430.37 542.60,430.90 C548.90,431.43 548.77,431.45 560.00,432.10 C571.23,432.75 591.55,433.90 610.00,434.80 C628.45,435.70 660.58,437.05 670.70,437.50" fill="none" stroke="#4a4a4a" stroke-width="3.2"/>
<path d="M424.70,313.90 C427.32,316.02 434.37,321.77 440.40,326.60 C446.43,331.43 454.08,338.20 460.90,342.90 C467.72,347.60 474.50,351.83 481.30,354.80 C488.10,357.77 494.88,359.00 501.70,360.70 C508.52,362.40 515.38,363.88 522.20,365.00 C529.02,366.12 536.30,366.70 542.60,367.40 C548.90,368.10 548.77,368.33 560.00,369.20 C571.23,370.07 591.55,371.53 610.00,372.60 C628.45,373.67 660.58,375.10 670.70,375.60" fill="none" stroke="#ec3a3e" stroke-width="3.2"/>
<path d="M424.70,264.90 C427.32,265.65 434.37,267.80 440.40,269.40 C446.43,271.00 454.08,273.03 460.90,274.50 C467.72,275.97 474.50,277.25 481.30,278.20 C488.10,279.15 494.88,279.68 501.70,280.20 C508.52,280.72 515.38,280.92 522.20,281.30 C529.02,281.68 536.30,282.17 542.60,282.50 C548.90,282.83 548.77,282.88 560.00,283.30 C571.23,283.72 591.55,284.45 610.00,285.00 C628.45,285.55 660.58,286.33 670.70,286.60" fill="none" stroke="#1a68d8" stroke-width="3.2"/>
<line x1="509.90" y1="281.70" x2="519.57" y2="290.99" stroke="#2b3c66" stroke-width="0.9"/>
<polygon points="522.60,293.90 518.19,292.43 520.96,289.55" fill="#2b3c66"/>
<line x1="515.00" y1="365.00" x2="525.69" y2="354.63" stroke="#2b3c66" stroke-width="0.9"/>
<polygon points="528.70,351.70 527.08,356.06 524.29,353.19" fill="#2b3c66"/>
<line x1="500.70" y1="425.00" x2="511.41" y2="414.45" stroke="#2b3c66" stroke-width="0.9"/>
<polygon points="514.40,411.50 512.81,415.87 510.00,413.02" fill="#2b3c66"/>
<text x="517.5" y="307.8" class="s"><tspan font-style="italic">r</tspan> = 25</text>
<text x="519.5" y="348.4" class="s"><tspan font-style="italic">r</tspan> = 10</text>
<text x="506" y="409" class="s"><tspan font-style="italic">r</tspan> = 5</text>
</svg>
</body></html>
